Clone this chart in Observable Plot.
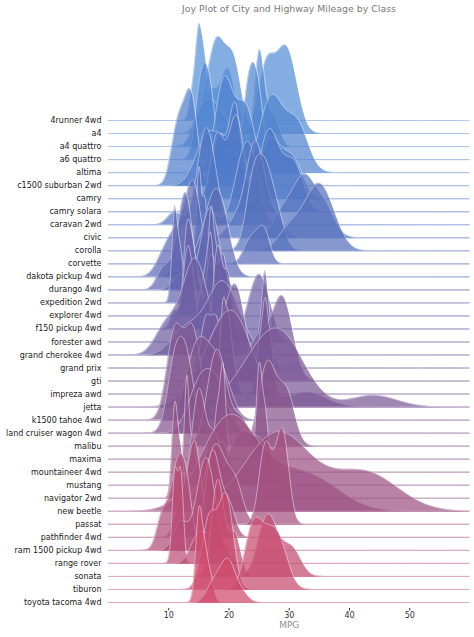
<!DOCTYPE html>
<html><head><meta charset="utf-8">
<script src="https://cdn.jsdelivr.net/npm/d3@7"></script>
<script src="https://cdn.jsdelivr.net/npm/@observablehq/plot@0.6"></script>
<style>
body{margin:0;background:#fff;}
#title{height:16px;line-height:17px;font-family:"DejaVu Sans",sans-serif;font-size:9.4px;color:#7a7a7a;text-align:center;padding-left:104px;width:370px;white-space:nowrap;}
#chart svg{display:block;}
</style></head><body>
<div id="title">Joy Plot of City and Highway Mileage by Class</div>
<div id="chart"></div>
<script>
const models = ["4runner 4wd","a4","a4 quattro","a6 quattro","altima","c1500 suburban 2wd","camry","camry solara","caravan 2wd","civic","corolla","corvette","dakota pickup 4wd","durango 4wd","expedition 2wd","explorer 4wd","f150 pickup 4wd","forester awd","grand cherokee 4wd","grand prix","gti","impreza awd","jetta","k1500 tahoe 4wd","land cruiser wagon 4wd","malibu","maxima","mountaineer 4wd","mustang","navigator 2wd","new beetle","passat","pathfinder 4wd","ram 1500 pickup 4wd","range rover","sonata","tiburon","toyota tacoma 4wd"];
const ctyValues = [
 [15,16,15,15,16,14],
 [18,21,20,21,16,18,18],
 [18,16,20,19,15,17,17,15],
 [15,17,16],
 [21,19,23,23,19,19],
 [14,11,14,13,12],
 [21,21,21,21,18,18,19],
 [21,21,21,22,18,18,18],
 [18,17,16,16,17,17,11,15,15,16,16],
 [28,24,25,23,24,26,25,24,21],
 [24,24,26,28,26],
 [16,15,16,15,15],
 [15,14,13,14,14,14,9,11,11],
 [13,12,13,9,13,11,13],
 [11,11,12],
 [14,15,14,13,13,13],
 [14,14,13,13,13,11,13],
 [18,18,20,19,20,18],
 [17,15,15,14,9,14,13,11],
 [18,16,17,18,16],
 [21,19,21,22,17],
 [21,19,19,19,20,20,19,20],
 [33,21,19,22,21,21,21,16,17],
 [14,11,11,14],
 [11,13],
 [19,22,18,18,17],
 [18,19,19],
 [14,13,13,13],
 [18,18,17,16,15,15,15,15,14],
 [11,11,12],
 [35,29,21,19,20,20],
 [21,18,19,21,16,18,17],
 [14,15,14,12],
 [12,9,13,13,12,9,11,11,13,11],
 [11,12,12,11],
 [18,18,21,21,18,18,19],
 [19,19,20,20,17,16,17],
 [15,16,17,15,15,15,16]
];
const hwyValues = [
 [20,20,19,17,20,17],
 [29,29,31,30,26,26,27],
 [26,25,28,27,25,25,25,25],
 [24,25,23],
 [29,27,31,32,27,26],
 [20,15,20,17,17],
 [29,27,31,31,26,26,28],
 [27,29,31,31,26,26,27],
 [24,24,22,22,24,24,17,22,21,23,23],
 [33,32,32,29,32,34,36,36,29],
 [30,33,35,37,35],
 [26,23,26,25,24],
 [19,18,17,17,19,19,12,17,15],
 [17,16,17,12,17,16,18],
 [17,17,18],
 [17,19,17,19,19,17],
 [17,17,16,16,17,15,17],
 [25,24,27,25,26,23],
 [22,19,20,17,12,19,18,14],
 [26,26,27,26,25],
 [29,26,29,29,24],
 [26,26,26,26,25,27,25,27],
 [44,29,26,29,29,29,29,23,24],
 [19,14,15,17],
 [15,18],
 [27,30,26,29,26],
 [26,25,25],
 [17,19,19,17],
 [26,25,26,24,21,22,23,22,20],
 [17,16,18],
 [44,41,29,26,28,29],
 [29,29,28,29,26,26,26],
 [17,17,20,18],
 [16,12,17,17,16,12,15,16,17,15],
 [15,18,18,15],
 [26,27,30,31,26,26,28],
 [26,29,28,27,24,24,24],
 [20,20,22,17,19,18,20]
];
const xTicks = [10,20,30,40,50];
const xRange = [0, 60];
const colorStops = ["#5590d8","#4f78c6","#6563ad","#7d5894","#9a5284","#cf4a6c"];

const N = models.length;
const peak = 7.45;           // row height of each row's tallest peak, in row units
const fillAlpha = 0.72;
const xs = d3.range(xRange[0], xRange[1] + 1e-9, 0.06);
const cmap = d3.piecewise(d3.interpolateRgb, colorStops);

function kde(values) {
  const n = values.length;
  const sd = d3.deviation(values) || 1;
  const h = sd * Math.pow(n, -0.2);
  const c = 1 / (n * h * Math.sqrt(2 * Math.PI));
  return xs.map(x => c * d3.sum(values, v => Math.exp(-0.5 * ((x - v) / h) ** 2)));
}

const marks = [];
models.forEach((m, i) => {
  const base = N - 1 - i;
  const color = cmap(i / (N - 1));
  const dens = [kde(ctyValues[i]), kde(hwyValues[i])];
  const mx = d3.max(dens.flat());
  dens.forEach(ds => {
    const pts = xs.map((x, k) => ({x, y: base + ds[k] / mx * peak}));
    marks.push(Plot.areaY(pts, {x: "x", y1: base, y2: "y", fill: color, fillOpacity: fillAlpha}));
    marks.push(Plot.ruleY([base], {x1: xRange[0], x2: xRange[1], stroke: color, strokeOpacity: 0.6, strokeWidth: 1}));
    marks.push(Plot.line(pts, {x: "x", y: "y", stroke: "white", strokeOpacity: 0.45, strokeWidth: 1}));
  });
});
marks.push(Plot.text(models, {x: xRange[0], y: (d, i) => N - 1 - i, dx: -7, textAnchor: "end", fill: "#1a1a1a", fontSize: 8, fontFamily: "DejaVu Sans"}));
marks.push(Plot.axisX({ticks: xTicks, tickSize: 2.5, tickPadding: 1.5, fontSize: 8, fontFamily: "DejaVu Sans", color: "#333", label: null}));
marks.push(Plot.text(["MPG"], {frameAnchor: "bottom", x: 30, dy: 19, fill: "#909090", fontSize: 9, fontFamily: "DejaVu Sans"}));

const chart = Plot.plot({
  width: 474,
  height: 621,
  marginLeft: 108,
  marginRight: 4,
  marginTop: 0,
  marginBottom: 29,
  x: {domain: xRange, range: [108, 469.5]},
  y: {domain: [0, N - 1], range: [586, 104], axis: null},
  style: {background: "white", overflow: "visible"},
  marks
});
document.getElementById("chart").appendChild(chart);
</script>
</body></html>
